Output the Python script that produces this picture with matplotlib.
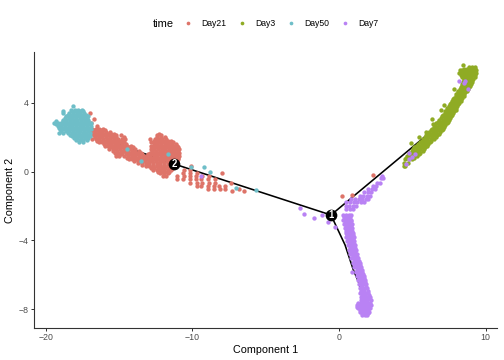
import matplotlib
matplotlib.use('Agg')
import matplotlib.pyplot as plt
from matplotlib.lines import Line2D

plt.rcParams['font.family'] = ['Liberation Sans', 'DejaVu Sans']

# points, written as {component 2: [component 1, ...]}
day21 = {
    3.38: [-17.0],
    3.03: [-16.7],
    2.8: [-16.9],
    2.67: [-16.5],
    2.5: [-16.85, -16.6, -16.35, -16.1],
    2.4: [-16.75, -16.5, -16.25, -16.0],
    2.3: [-16.9, -16.65, -16.4, -16.15, -15.9, -15.65],
    2.2: [-16.8, -16.55, -16.3, -16.05, -15.8, -15.55, -15.35, -12.3],
    2.1: [-17.0, -16.75, -16.5, -16.25, -16.0, -15.75, -15.5, -15.25, -14.85, -12.4, -12.15],
    2.0: [-16.65, -16.4, -16.15, -15.9, -15.65, -15.4, -15.2, -14.7, -12.4, -12.15, -11.9],
    1.9: [-16.85, -16.6, -16.35, -16.1, -15.85, -15.6, -15.35, -15.1, -14.8, -14.6, -12.9, -12.55, -12.3, -12.05, -11.8],
    1.8: [-16.5, -16.25, -16.0, -15.75, -15.5, -15.25, -15.0, -14.75, -12.65, -12.4, -12.15, -11.9, -11.65, -11.45],
    1.7: [-16.4, -16.15, -15.9, -15.65, -15.4, -15.15, -14.9, -14.65, -12.8, -12.55, -12.3, -12.05, -11.8, -11.55, -11.3],
    1.6: [-16.05, -15.8, -15.55, -15.3, -15.05, -14.8, -14.55, -12.65, -12.4, -12.15, -11.9, -11.65, -11.4, -11.15],
    1.5: [-16.0, -15.75, -15.5, -15.25, -15.0, -14.75, -14.5, -14.2, -12.8, -12.55, -12.3, -12.05, -11.8, -11.55, -11.3, -11.05],
    1.4: [-15.6, -15.35, -15.1, -14.85, -14.6, -14.3, -14.05, -12.7, -12.45, -12.2, -11.95, -11.7, -11.45, -11.2, -11.0],
    1.3: [-15.7, -15.45, -15.2, -14.95, -14.7, -14.45, -14.2, -13.95, -12.85, -12.6, -12.35, -12.1, -11.85, -11.6, -11.35, -11.1, -10.95],
    1.2: [-15.4, -15.15, -14.9, -14.65, -14.4, -14.15, -13.9, -13.65, -12.75, -12.5, -12.25, -12.0, -11.75, -11.5, -11.25, -11.0],
    1.1: [-15.3, -15.05, -14.8, -14.55, -14.3, -14.05, -13.8, -13.5, -12.9, -12.65, -12.4, -12.15, -11.9, -11.65, -11.4, -11.15, -10.95],
    1.0: [-15.15, -14.9, -14.45, -14.2, -13.95, -13.7, -13.45, -13.05, -12.8, -12.5, -12.25, -12.0, -11.75, -11.5, -11.25, -11.0],
    0.9: [-15.25, -15.0, -14.65, -14.4, -14.15, -13.9, -13.65, -13.4, -13.15, -12.9, -12.65, -12.4, -12.15, -11.9, -11.65, -11.4, -11.15, -10.95],
    0.8: [-14.5, -14.25, -14.0, -13.75, -13.5, -13.25, -13.0, -12.75, -12.5, -12.25, -12.0, -11.75, -11.5, -11.25, -11.0],
    0.7: [-14.35, -14.1, -13.85, -13.6, -13.35, -13.1, -12.85, -12.6, -12.35, -12.1, -11.85, -11.6, -11.35, -11.1, -11.0],
    0.6: [-14.0, -13.75, -13.5, -13.25, -13.0, -12.75, -12.5, -12.25, -12.0, -11.75, -11.5, -11.25, -11.05],
    0.5: [-13.7, -13.45, -13.2, -12.95, -12.7, -12.45, -12.2, -11.95, -11.7, -11.45, -11.2, -11.05],
    0.4: [-13.45, -13.2, -12.95, -12.7, -12.45, -12.2, -11.95, -11.7, -11.45, -11.2],
    0.3: [-13.2, -12.95, -12.7, -12.45, -12.2, -11.95, -11.7, -11.45, -11.2, -10.1],
    0.2: [-12.85, -12.6, -12.35, -12.1, -11.85, -11.6, -11.35],
    0.1: [-12.7, -12.45, -12.2, -11.95, -11.7, -11.45, -10.6, -10.2],
    0.0: [-12.35, -12.1, -11.85, -11.6],
    -0.1: [-12.2, -11.95, -11.7, -10.65, -10.2, -9.7, -8.0],
    -0.22: [2.32],
    -0.25: [-12.0, -11.8, -11.05, -10.6, -10.15, -9.75, -9.35, -8.9],
    -0.45: [-11.05, -10.65, -10.2, -9.75, -9.4, -8.95, -8.45],
    -0.65: [-10.15, -9.7, -9.35, -8.9, -8.45, -7.4],
    -0.85: [-9.7, -9.4, -8.95, -8.5, -8.2, -7.8],
    -1.0: [-8.95, -8.5, -8.15, -7.75, -6.8],
    -1.15: [-7.3, -6.5],
    -1.37: [0.87],
    -1.41: [0.21],
}
day3 = {
    0.3: [4.4, 4.5],
    0.5: [4.4, 4.7],
    0.7: [4.5, 4.75, 5.0],
    0.8: [4.6, 4.85, 5.1],
    0.9: [4.65, 4.9, 5.1, 5.3],
    1.0: [4.8, 5.0, 5.25, 5.45],
    1.1: [4.8, 5.05, 5.3, 5.55],
    1.2: [4.95, 5.2, 5.45, 5.7],
    1.3: [5.05, 5.3, 5.55, 5.8],
    1.4: [5.15, 5.4, 5.65, 5.9],
    1.5: [5.25, 5.5, 5.75, 6.0],
    1.6: [5.4, 5.65, 5.9, 6.1],
    1.67: [4.92],
    1.7: [5.5, 5.75, 6.0, 6.2],
    1.8: [5.65, 5.9, 6.1, 6.3],
    1.9: [5.75, 6.0, 6.25, 6.45],
    1.98: [5.48],
    2.0: [5.85, 6.1, 6.35, 6.6],
    2.1: [5.95, 6.2, 6.45, 6.7],
    2.2: [6.05, 6.3, 6.55, 6.8],
    2.31: [5.94, 6.15, 6.4, 6.65, 6.9],
    2.4: [6.25, 6.5, 6.75, 7.0],
    2.5: [6.35, 6.6, 6.85, 7.1],
    2.6: [6.45, 6.7, 6.95, 7.15],
    2.7: [6.55, 6.8, 7.05, 7.25],
    2.76: [6.39],
    2.8: [6.65, 6.9, 7.15, 7.35],
    2.9: [6.75, 7.0, 7.25, 7.45],
    3.0: [6.85, 7.1, 7.3, 7.5],
    3.03: [6.37],
    3.1: [6.95, 7.2, 7.4, 7.6],
    3.2: [7.05, 7.25, 7.45, 7.65],
    3.3: [7.1, 7.3, 7.5, 7.7],
    3.4: [7.2, 7.4, 7.6, 7.8],
    3.5: [7.25, 7.45, 7.65, 7.85],
    3.57: [6.94],
    3.6: [7.35, 7.55, 7.75, 7.95],
    3.7: [7.4, 7.6, 7.8, 8.0],
    3.8: [7.5, 7.7, 7.9, 8.05],
    3.86: [7.19],
    3.9: [7.55, 7.75, 7.95, 8.15],
    4.0: [7.65, 7.85, 8.05, 8.2],
    4.1: [7.7, 7.9, 8.1, 8.3],
    4.2: [7.8, 8.0, 8.2, 8.35],
    4.3: [7.85, 8.05, 8.25, 8.4],
    4.4: [7.95, 8.15, 8.3, 8.5],
    4.5: [8.0, 8.2, 8.4, 8.55],
    4.6: [8.1, 8.3, 8.45, 8.6],
    4.7: [8.15, 8.35, 8.55, 8.7],
    4.79: [7.85],
    4.8: [8.25, 8.45, 8.6, 8.8],
    4.9: [8.3, 8.5, 8.7, 8.85],
    5.0: [8.4, 8.6, 8.75, 8.95],
    5.1: [8.4, 8.6, 8.8, 9.0],
    5.2: [8.45, 8.65, 8.85, 9.05],
    5.3: [8.5, 8.7, 8.9, 9.1],
    5.4: [8.5, 8.7, 8.9, 9.15],
    5.5: [8.4, 8.6, 8.8, 9.0, 9.25],
    5.6: [8.3, 8.5, 8.7, 8.9, 9.1, 9.3],
    5.7: [8.2, 8.4, 8.6, 8.8, 9.0, 9.2, 9.35],
    5.8: [8.3, 8.5, 8.7, 8.9, 9.1, 9.3],
    5.9: [8.25, 8.4, 8.6, 8.8, 9.0, 9.2, 9.35],
    5.98: [8.5, 8.7, 9.0, 9.15, 9.3],
    6.05: [8.9, 9.1, 9.25],
    6.19: [8.49],
}
day50 = {
    3.8: [-18.15],
    3.6: [-18.3, -18.05, -17.8, -17.55],
    3.5: [-18.85, -18.2, -17.95, -17.7, -17.5],
    3.4: [-18.85, -18.4, -18.15, -17.9, -17.65, -17.4],
    3.3: [-18.5, -18.25, -18.0, -17.75, -17.5, -17.25],
    3.2: [-18.6, -18.35, -18.1, -17.85, -17.6, -17.35, -17.1],
    3.1: [-18.7, -18.45, -18.2, -17.95, -17.7, -17.45, -17.2],
    3.0: [-18.85, -18.6, -18.35, -18.1, -17.85, -17.6, -17.35, -17.1],
    2.93: [-19.3, -18.85, -18.6, -18.35, -18.1, -17.85, -17.6, -17.35, -17.1],
    2.85: [-19.45, -19.2, -18.95, -18.7, -18.45, -18.2, -17.95, -17.7, -17.45, -17.2, -16.95],
    2.75: [-19.3, -19.05, -18.8, -18.55, -18.3, -18.05, -17.8, -17.55, -17.3, -17.05],
    2.65: [-19.2, -18.95, -18.7, -18.45, -18.2, -17.95, -17.7, -17.45, -17.2, -16.95],
    2.55: [-19.1, -18.85, -18.6, -18.35, -18.1, -17.85, -17.6, -17.35, -17.1],
    2.45: [-19.05, -18.8, -18.55, -18.3, -18.05, -17.8, -17.55, -17.3, -17.05, -16.95],
    2.35: [-18.95, -18.65, -18.4, -18.15, -17.9, -17.65, -17.4, -17.15],
    2.25: [-19.1, -18.85, -18.5, -18.25, -18.0, -17.75, -17.5, -17.25, -17.0],
    2.15: [-18.35, -18.1, -17.85, -17.6, -17.35, -17.1],
    2.05: [-18.25, -18.0, -17.75, -17.5, -17.25, -17.0],
    1.95: [-18.1, -17.85, -17.6, -17.35, -17.1],
    1.85: [-17.95, -17.7, -17.45, -17.2],
    1.7: [-17.75, -17.5],
    # strays along the trajectory
    1.31: [-14.45],
    1.02: [-11.7],
    0.63: [-13.5],
    0.28: [-10.1],
    0.24: [-9.2],
    0.0: [-8.8],
    -0.94: [-7.0],
    -1.08: [-5.7],
}
day7 = {
    # among the green band
    5.28: [8.6],
    5.24: [8.17],
    5.12: [8.51],
    4.77: [8.83],
    1.09: [4.78],
    1.0: [5.19],
    0.82: [4.96],
    0.7: [4.78],
    0.43: [4.55],
    # upper branch
    -0.25: [2.95],
    -0.4: [2.85, 3.0],
    -0.65: [2.6, 2.8],
    -0.85: [2.3, 2.55],
    -1.0: [2.0, 2.25, 2.45],
    -1.2: [1.7, 1.95, 2.2],
    -1.4: [1.4, 1.65, 1.9, 2.1],
    -1.6: [0.85, 1.1, 1.35, 1.6, 1.85, 2.0],
    -1.8: [0.5, 0.75, 1.0, 1.25, 1.5, 1.7],
    -2.0: [0.45, 0.7, 0.95, 1.15],
    -2.2: [0.5, 0.75, 0.95],
    # left of node 1
    -2.1: [-2.66],
    -2.47: [-2.39],
    -2.7: [-1.68],
    -2.92: [-0.73],
    -3.2: [-0.27],
    -0.28: [-9.4],
    # lower leg
    -2.55: [0.25, 0.45, 0.65, 0.8, -1.18],
    -2.65: [0.35, 0.55, 0.75],
    -2.8: [0.3, 0.5, 0.7, 0.85],
    -2.9: [0.4, 0.6, 0.8],
    -3.05: [0.35, 0.55, 0.7, 0.87],
    -3.15: [0.45, 0.65, 0.8],
    -3.3: [0.4, 0.6, 0.75, 0.9],
    -3.45: [0.5, 0.7, 0.9],
    -3.55: [0.45, 0.65, 0.8, 0.95],
    -3.7: [0.55, 0.75, 0.92],
    -3.8: [0.5, 0.7, 0.85, 1.0],
    -3.95: [0.6, 0.8, 0.97],
    -4.05: [0.55, 0.75, 0.9, 1.05],
    -4.2: [0.68, 0.85, 1.02],
    -4.3: [0.6, 0.8, 0.95, 1.1],
    -4.45: [0.72, 0.92, 1.08],
    -4.55: [0.65, 0.85, 1.0, 1.15],
    -4.7: [0.8, 0.98, 1.12],
    -4.8: [0.72, 0.9, 1.05, 1.2],
    -4.95: [0.92, 1.08, 1.25],
    -5.05: [0.85, 1.0, 1.15, 1.3],
    -5.2: [1.02, 1.18, 1.35],
    -5.3: [0.95, 1.1, 1.25, 1.4],
    -5.45: [1.12, 1.28, 1.45],
    -5.55: [1.05, 1.2, 1.35, 1.5],
    -5.7: [1.22, 1.38, 1.55],
    -5.83: [0.87, 1.15, 1.3, 1.45, 1.6],
    -5.95: [1.32, 1.48, 1.65],
    -6.05: [1.25, 1.4, 1.55, 1.7],
    -6.2: [1.38, 1.52, 1.7],
    -6.3: [1.3, 1.45, 1.6, 1.75],
    -6.45: [1.42, 1.58, 1.8],
    -6.55: [1.35, 1.5, 1.65, 1.85],
    -6.7: [1.48, 1.6, 1.85],
    -6.8: [1.4, 1.55, 1.75, 1.9],
    -6.95: [1.52, 1.7, 1.95],
    -7.05: [1.45, 1.6, 1.8, 2.0],
    -7.2: [1.6, 1.8, 2.05],
    -7.3: [1.5, 1.7, 1.9, 2.1],
    -7.4: [1.6, 1.8, 2.05],
    -7.5: [1.5, 1.7, 1.9, 2.15],
    -7.65: [1.3, 1.5, 1.7, 1.9, 2.1],
    -7.75: [1.2, 1.4, 1.6, 1.8, 2.0, 2.2],
    -7.85: [1.25, 1.45, 1.65, 1.85, 2.05],
    -7.95: [1.3, 1.5, 1.7, 1.9, 2.1],
    -8.05: [1.4, 1.6, 1.8, 2.0],
    -8.15: [1.45, 1.65, 1.85, 2.05],
    -8.25: [1.55, 1.7, 1.85, 2.0],
    -8.35: [1.6, 1.75, 1.9],
}

# trajectory: node 2 to node 1, then the two branches
backbone_x = [-15.0, -11.26, -0.55]
backbone_y = [1.55, 0.44, -2.53]
branch_up_x = [-0.55, 5.9]
branch_up_y = [-2.53, 2.05]
branch_down_x = [-0.55, 0.41, 0.98, 1.32, 1.6]
branch_down_y = [-2.53, -4.27, -5.73, -6.4, -7.2]
node_x = [-0.55, -11.26]
node_y = [-2.53, 0.44]
node_labels = ['1', '2']

series = ['Day21', 'Day3', 'Day50', 'Day7']
colors = ['#DE7469', '#8FAB24', '#6EBEC8', '#B982F4']
xticks = [-20, -10, 0, 10]
yticks = [-8, -4, 0, 4]

fig = plt.figure(figsize=(7, 5), dpi=72)
ax = fig.add_axes([33.5 / 504, 1 - 328 / 360, (497 - 33.5) / 504, (328 - 52) / 360])

ax.plot(backbone_x, backbone_y, color='black', lw=1.6, zorder=1)
ax.plot(branch_up_x, branch_up_y, color='black', lw=1.6, zorder=1)
ax.plot(branch_down_x, branch_down_y, color='black', lw=1.6, zorder=1)

for name, rows, c in zip(series, [day21, day3, day50, day7], colors):
    xs = []
    ys = []
    for y, row in rows.items():
        xs += row
        ys += [y] * len(row)
    ax.scatter(xs, ys, s=19, color=c, linewidths=0, zorder=2, label=name)

ax.scatter(node_x, node_y, s=137, color='black', linewidths=0, zorder=3)
for x, y, t in zip(node_x, node_y, node_labels):
    ax.text(x, y, t, color='white', fontsize=9.5, fontweight='bold', ha='center', va='center', zorder=4)

ax.set_xlim(-20.85, 10.78)
ax.set_ylim(-9.1, 6.95)
ax.set_xticks(xticks)
ax.set_yticks(yticks)
ax.set_xticklabels(['\u2212' + str(-v) if v < 0 else str(v) for v in xticks])
ax.set_yticklabels(['\u2212' + str(-v) if v < 0 else str(v) for v in yticks])
ax.tick_params(colors='#4D4D4D', labelsize=8.8, length=3, width=1, pad=2)
ax.tick_params(axis='both', color='#333333')
for s in ['top', 'right']:
    ax.spines[s].set_visible(False)
for s in ['left', 'bottom']:
    ax.spines[s].set_color('#333333')
    ax.spines[s].set_linewidth(1.1)
ax.set_xlabel('Component 1', fontsize=10.8, labelpad=3)
ax.set_ylabel('Component 2', fontsize=10.8, labelpad=3)

handles = [Line2D([], [], marker='o', ls='', ms=3.7, mew=0, color=c) for c in colors]
fig.legend(handles, series, loc='center', bbox_to_anchor=(281 / 504, 1 - 24 / 360), ncol=4, frameon=False,
           fontsize=8.6, handlelength=1, handletextpad=1.13, columnspacing=1.24, borderpad=0)
fig.text(153 / 504, 1 - 24 / 360, 'time', fontsize=11, ha='left', va='center')

fig.savefig('out.png', dpi=72)
